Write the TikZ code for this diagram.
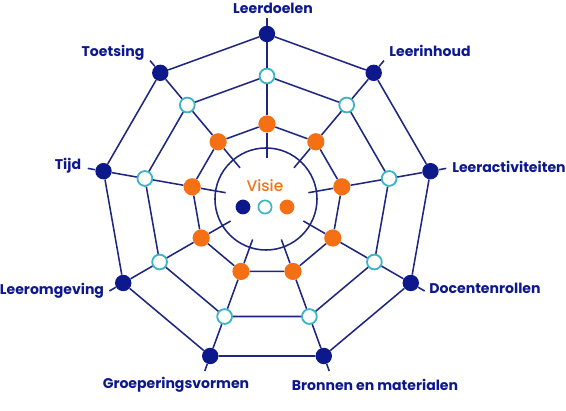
\documentclass[tikz,border=0pt]{standalone}
\usepackage{fontspec}
\setmainfont{Poppins}
\newfontfamily\visiefont{Poppins}[UprightFont=* Medium]
\usepackage{tikz}
\usetikzlibrary{positioning}
\definecolor{WebNavy}{RGB}{12, 24, 140}
\definecolor{WebLine}{RGB}{30, 38, 128}
\definecolor{WebOrange}{RGB}{245, 112, 20}
\definecolor{WebCyan}{RGB}{60, 180, 195}

\begin{document}
\begin{tikzpicture}[x=0.025cm, y=0.025cm,
  dot/.style={circle, inner sep=0pt, minimum size=0.41cm},
  outer/.style={dot, fill=WebNavy},
  ring/.style={dot, fill=white, draw=WebCyan, line width=1.3pt, minimum size=0.37cm},
  core/.style={dot, fill=WebOrange, minimum size=0.43cm},
  mini/.style={dot, minimum size=0.37cm},
  lab/.style={font=\bfseries\fontsize{10}{12}\selectfont, text=WebNavy},
  web/.style={WebLine, line width=1.1pt}]
\useasboundingbox (-267, -211) rectangle (299, 200);
% centre
\node[draw=WebLine, line width=1.1pt, circle, minimum size=2.55cm, inner sep=0pt] (vis) at (-1, 1) {};
\node[font=\visiefont\fontsize{11}{13}\selectfont, text=WebOrange] (vtxt) at (-2, 14) {Visie};
\node[mini, fill=WebNavy] (m1) at (-24, -7) {};
\node[mini, fill=white, draw=WebCyan, line width=1.2pt, minimum size=0.33cm] (m2) at (-2, -7) {};
\node[mini, fill=WebOrange] (m3) at (20, -7) {};
% spokes: stub, outer, ring, core, inner end
\coordinate (s1) at (90:182); \node[outer] (o1) at (90:166) {}; \node[ring] (c1) at (90:124) {}; \node[core] (r1) at (90:76) {}; \coordinate (i1) at (90:42);
\coordinate (s2) at (50:182); \node[outer] (o2) at (50:166) {}; \node[ring] (c2) at (50:124) {}; \node[core] (r2) at (50:76) {}; \coordinate (i2) at (50:42);
\coordinate (s3) at (10:182); \node[outer] (o3) at (10:166) {}; \node[ring] (c3) at (10:124) {}; \node[core] (r3) at (10:76) {}; \coordinate (i3) at (10:42);
\coordinate (s4) at (-30:182); \node[outer] (o4) at (-30:166) {}; \node[ring] (c4) at (-30:124) {}; \node[core] (r4) at (-30:76) {}; \coordinate (i4) at (-30:42);
\coordinate (s5) at (-70:182); \node[outer] (o5) at (-70:166) {}; \node[ring] (c5) at (-70:124) {}; \node[core] (r5) at (-70:76) {}; \coordinate (i5) at (-70:42);
\coordinate (s6) at (-110:182); \node[outer] (o6) at (-110:166) {}; \node[ring] (c6) at (-110:124) {}; \node[core] (r6) at (-110:76) {}; \coordinate (i6) at (-110:42);
\coordinate (s7) at (-150:182); \node[outer] (o7) at (-150:166) {}; \node[ring] (c7) at (-150:124) {}; \node[core] (r7) at (-150:76) {}; \coordinate (i7) at (-150:42);
\coordinate (s8) at (170:182); \node[outer] (o8) at (170:166) {}; \node[ring] (c8) at (170:124) {}; \node[core] (r8) at (170:76) {}; \coordinate (i8) at (170:42);
\coordinate (s9) at (130:182); \node[outer] (o9) at (130:166) {}; \node[ring] (c9) at (130:124) {}; \node[core] (r9) at (130:76) {}; \coordinate (i9) at (130:42);
% labels
\node[lab] (l1) at (6, 192) {Leerdoelen};
\node[lab] (l2) at (163, 149) {Leerinhoud};
\node[lab] (l3) at (242, 33) {Leeractiviteiten};
\node[lab] (l4) at (218, -88) {Docentenrollen};
\node[lab] (l5) at (108, -185) {Bronnen en materialen};
\node[lab] (l6) at (-91, -185) {Groeperingsvormen};
\node[lab] (l7) at (-215, -91) {Leeromgeving};
\node[lab] (l8) at (-199, 34) {Tijd};
\node[lab] (l9) at (-154, 147) {Toetsing};
% spokes
\draw[web] (s1) -- (o1) -- (c1) -- (r1) -- (i1); \draw[web] (s2) -- (o2) -- (c2) -- (r2) -- (i2); \draw[web] (s3) -- (o3) -- (c3) -- (r3) -- (i3);
\draw[web] (s4) -- (o4) -- (c4) -- (r4) -- (i4); \draw[web] (s5) -- (o5) -- (c5) -- (r5) -- (i5); \draw[web] (s6) -- (o6) -- (c6) -- (r6) -- (i6);
\draw[web] (s7) -- (o7) -- (c7) -- (r7) -- (i7); \draw[web] (s8) -- (o8) -- (c8) -- (r8) -- (i8); \draw[web] (s9) -- (o9) -- (c9) -- (r9) -- (i9);
% rings
\draw[web] (o1) -- (o2) -- (o3) -- (o4) -- (o5) -- (o6) -- (o7) -- (o8) -- (o9) -- (o1);
\draw[web] (c1) -- (c2) -- (c3) -- (c4) -- (c5) -- (c6) -- (c7) -- (c8) -- (c9) -- (c1);
\draw[web] (r1) -- (r2) -- (r3) -- (r4) -- (r5) -- (r6) -- (r7) -- (r8) -- (r9) -- (r1);
\end{tikzpicture}
\end{document}
